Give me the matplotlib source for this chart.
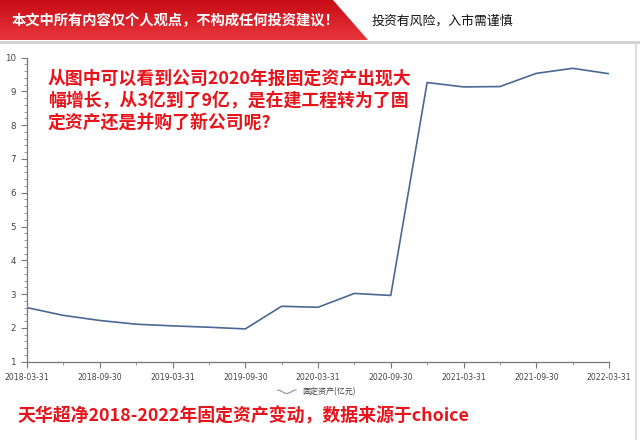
import matplotlib
matplotlib.use("Agg")
import matplotlib.pyplot as plt
import numpy as np
from matplotlib.patches import Polygon
from matplotlib.lines import Line2D
from matplotlib.ticker import MultipleLocator
from matplotlib.legend_handler import HandlerBase
from matplotlib.colors import LinearSegmentedColormap

plt.rcParams['font.family'] = ['Noto Sans CJK SC', 'DejaVu Sans']

quarters = ['2018-03-31', '2018-06-30', '2018-09-30', '2018-12-31',
            '2019-03-31', '2019-06-30', '2019-09-30', '2019-12-31',
            '2020-03-31', '2020-06-30', '2020-09-30', '2020-12-31',
            '2021-03-31', '2021-06-30', '2021-09-30', '2021-12-31',
            '2022-03-31']
fixed_assets = [2.60, 2.37, 2.22, 2.11, 2.06, 2.02, 1.97, 2.64,
                2.61, 3.02, 2.96, 9.26, 9.13, 9.14, 9.53, 9.68, 9.52]
series_name = '固定资产(亿元)'
header_left = '本文中所有内容仅个人观点，不构成任何投资建议！'
header_right = '投资有风险，入市需谨慎'
note_lines = ['从图中可以看到公司2020年报固定资产出现大',
              '幅增长，从3亿到了9亿，是在建工程转为了固',
              '定资产还是并购了新公司呢?']
footer = '天华超净2018-2022年固定资产变动，数据来源于choice'

W, H = 640, 440
fig = plt.figure(figsize=(6.4, 4.4), dpi=100)
fig.patch.set_facecolor('white')

bg = fig.add_axes([0, 0, 1, 1], zorder=0)
bg.set_xlim(0, W)
bg.set_ylim(H, 0)
bg.axis('off')

grad = np.linspace(0, 1, 64).reshape(-1, 1)
cmap = LinearSegmentedColormap.from_list('r', ['#c70c15', '#e8363c'])
im = bg.imshow(grad, cmap=cmap, extent=[0, 370, 40, 0], aspect='auto', zorder=1)
poly = Polygon([[0, 0], [333, 0], [368, 40], [0, 40]], closed=True,
               transform=bg.transData, facecolor='none', edgecolor='none')
bg.add_patch(poly)
im.set_clip_path(poly)
bg.plot([0, W], [42.5, 42.5], color='#d0d0d0', lw=2.0, zorder=1)
bg.plot([636, 636], [42, H], color='#d8d8d8', lw=1.2, zorder=1)

bg.text(12, 21, header_left, color='white', fontsize=10.3, fontweight='bold',
        va='center', ha='left')
bg.text(372, 21, header_right, color='#111111', fontsize=9.3,
        va='center', ha='left')

for i, line in enumerate(note_lines):
    bg.text(48, 79 + i * 22.3, line, color='#e8141c', fontsize=12.85,
            fontweight='bold', va='center', ha='left', zorder=5)

bg.text(17, 416, footer, color='#e8141c', fontsize=12.9, fontweight='bold',
        va='center', ha='left', zorder=5)

ax = fig.add_axes([27 / W, 1 - 361.7 / H, (609 - 27) / W, (361.7 - 57.5) / H], zorder=2)
ax.patch.set_alpha(0)
x = np.arange(len(quarters))
ax.plot(x, fixed_assets, color='#4a6893', lw=1.2)
ax.set_xlim(0, len(quarters) - 1)
ax.set_ylim(1, 10)
ax.set_xticks(x[::2])
ax.set_xticklabels(quarters[::2])
ax.set_xticks(x, minor=True)
ax.yaxis.set_major_locator(MultipleLocator(1))
ax.yaxis.set_minor_locator(MultipleLocator(0.2))
for s in ['top', 'right']:
    ax.spines[s].set_visible(False)
for s in ['left', 'bottom']:
    ax.spines[s].set_color('#777777')
    ax.spines[s].set_linewidth(0.9)
ax.tick_params(axis='both', which='major', length=4, width=0.8, color='#777777',
               labelsize=5.6, labelcolor='#444444', pad=2)
ax.tick_params(axis='y', which='major', labelsize=6.3, pad=4)
ax.tick_params(axis='both', which='minor', length=2.5, width=0.6, color='#888888')
ax.tick_params(axis='x', which='major', pad=4)
for lab in ax.get_xticklabels() + ax.get_yticklabels():
    lab.set_family('DejaVu Sans')


class WaveHandler(HandlerBase):
    def create_artists(self, legend, orig_handle, xdescent, ydescent,
                       width, height, fontsize, trans):
        t = np.linspace(0, 1, 40)
        xs = -xdescent + t * width
        ys = -ydescent + height / 2 + height * 0.3 * np.cos(2 * np.pi * t)
        ln = Line2D(xs, ys, color='#7d93b0', lw=0.8, transform=trans)
        return [ln]


handle = Line2D([], [], color='#7d93b0', lw=0.8)
fig.legend([handle], [series_name], loc='center', bbox_to_anchor=(0.495, 1 - 392 / H),
           frameon=False, fontsize=5.8, handlelength=2.3, labelcolor='#444444',
           handler_map={Line2D: WaveHandler()})

fig.savefig('out.png', dpi=100)
